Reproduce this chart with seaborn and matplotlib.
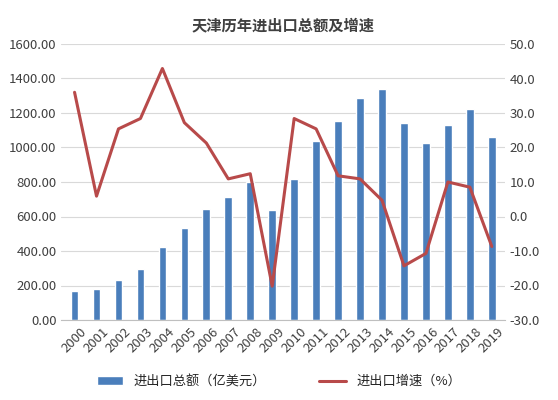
import matplotlib
matplotlib.use("Agg")
import matplotlib.pyplot as plt
import seaborn as sns
import pandas as pd

sns.set_style("white")
plt.rcParams['font.family'] = ['Noto Sans CJK SC', 'DejaVu Sans']

years = [str(y) for y in range(2000, 2020)]
totals = [166, 178, 231, 296, 421, 534, 646, 712, 800, 640, 818, 1038, 1156, 1285, 1339, 1144, 1028, 1129, 1226, 1063]
growth = [36.0, 5.9, 25.4, 28.4, 42.9, 27.2, 21.3, 10.9, 12.4, -20.2, 28.4, 25.4, 11.8, 10.9, 4.7, -14.3, -10.7, 10.0, 8.5, -8.7]

df = pd.DataFrame({"year": years, "total": totals, "growth": growth})

fig, ax = plt.subplots(figsize=(5.58, 4.0), dpi=100)
sns.barplot(data=df, x="year", y="total", color="#4a7ebb", width=0.35, ax=ax, saturation=1, label="进出口总额（亿美元）")
ax2 = ax.twinx()
sns.lineplot(x=list(range(len(years))), y=growth, color="#b84a4a", linewidth=2.2, ax=ax2, label="进出口增速（%）")

ax.set_ylim(0, 1600)
ax.set_yticks(range(0, 1601, 200))
ax.set_yticklabels([f"{v:.2f}" for v in range(0, 1601, 200)], fontsize=9.5, color="#404040")
ax2.set_ylim(-30, 50)
ax2.set_yticks(range(-30, 51, 10))
ax2.set_yticklabels([f"{v:.1f}" for v in range(-30, 51, 10)], fontsize=9.5, color="#404040")
ax.set_xticks(range(len(years)))
ax.set_xticklabels(years, rotation=45, fontsize=9.5, color="#404040")
ax.set_xlabel(""); ax.set_ylabel(""); ax2.set_ylabel("")
ax.set_xlim(-0.6, len(years) - 0.4)
ax.yaxis.grid(True, color="#d9d9d9", linewidth=0.8)
ax.set_axisbelow(True)
for a in (ax, ax2):
    for s in a.spines.values():
        s.set_visible(False)
ax.spines['bottom'].set_visible(True)
ax.spines['bottom'].set_color("#bfbfbf")
ax.tick_params(axis='both', length=0)
ax2.tick_params(axis='both', length=0)

ax.set_title("天津历年进出口总额及增速", fontsize=11, fontweight="bold", color="#404040", pad=10)

h1, l1 = ax.get_legend_handles_labels()
h2, l2 = ax2.get_legend_handles_labels()
if ax.get_legend(): ax.get_legend().remove()
if ax2.get_legend(): ax2.get_legend().remove()
fig.legend(h1 + h2, l1 + l2, loc="lower center", ncol=2, frameon=False, fontsize=9.5,
           bbox_to_anchor=(0.5, 0.0), columnspacing=4)

fig.subplots_adjust(left=0.11, right=0.905, top=0.89, bottom=0.2)
fig.savefig("out.png", dpi=100)
